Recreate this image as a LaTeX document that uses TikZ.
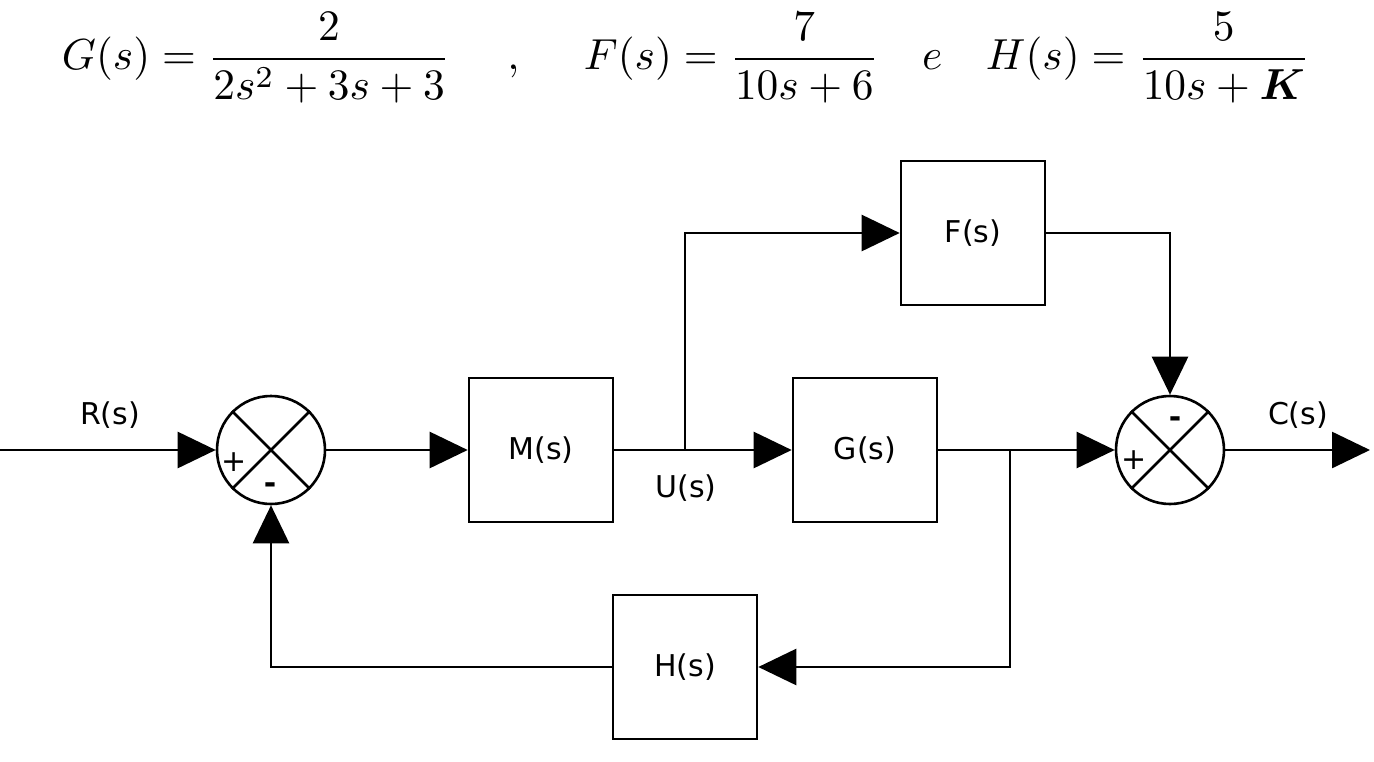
\documentclass[tikz,border=0pt]{standalone}
\usepackage{amsmath}
\usepackage{graphicx}
\usepackage{fontspec}
\setmainfont{DejaVu Sans}
\usetikzlibrary{arrows.meta}
\begin{document}
\begin{tikzpicture}[x=1pt,y=-1pt,
  blk/.style={draw,line width=2.6pt,minimum width=144pt,minimum height=144pt,inner sep=0pt,font=\fontsize{30}{34}\selectfont},
  sum/.style={draw,line width=2.6pt,circle,minimum size=108pt,inner sep=0pt},
  ln/.style={line width=2.6pt},
  ar/.style={line width=2.6pt,-{Triangle[length=38pt,width=36pt]}},
  lab/.style={font=\fontsize{30}{34}\selectfont},
  sg/.style={font=\fontsize{30}{34}\selectfont\bfseries}]
\useasboundingbox (0,0) rectangle (1374,761);
\node[inner sep=0pt] (eq) at (686,58) {\resizebox{1248pt}{!}{$G(s)=\dfrac{2}{2s^2+3s+3}\quad\ ,\ \quad F(s)=\dfrac{7}{10s+6}\quad e\quad H(s)=\dfrac{5}{10s+\boldsymbol{K}}$}};
\node[sum] (s1) at (271,450) {};
\node[sum] (s2) at (1170,450) {};
\draw[ln] (s1.45)--(s1.225) (s1.135)--(s1.315);
\draw[ln] (s2.45)--(s2.225) (s2.135)--(s2.315);
\node[blk] (M) at (541,450) {M(s)};
\node[blk] (G) at (865,450) {G(s)};
\node[blk] (F) at (973,233) {F(s)};
\node[blk] (H) at (685,667) {H(s)};
\coordinate (in) at (0,450);
\coordinate (out) at (1370,450);
\coordinate (b1) at (685,450);
\coordinate (b2) at (1010,450);
\draw[ar] (in)--(s1);
\draw[ar] (s1)--(M);
\draw[ar] (M)--(G);
\draw[ar] (b1)|-(F);
\draw[ar] (G)--(s2);
\draw[ar] (b2)|-(H);
\draw[ar] (H)-|(s1);
\draw[ar] (F)-|(s2);
\draw[ar] (s2)--(out);
\node[lab] (R) at (110,415) {R(s)};
\node[lab] (U) at (686,488) {U(s)};
\node[lab] (C) at (1298,415) {C(s)};
\node[lab] (p1) at (234,462) {+};
\node[sg] (m1) at (270,488) {-};
\node[lab] (p2) at (1134,460) {+};
\node[sg] (m2) at (1175,422) {-};
\end{tikzpicture}
\end{document}
